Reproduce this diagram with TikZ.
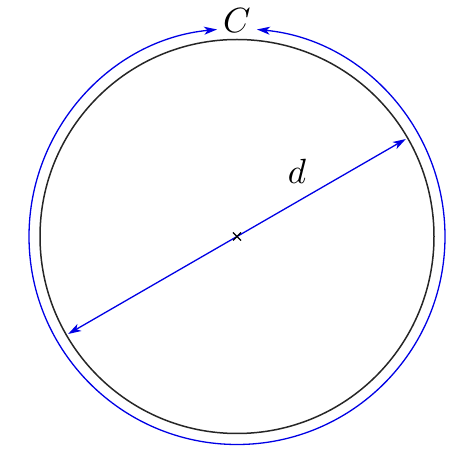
\documentclass[tikz,border=0pt]{standalone}
\usepackage{amssymb}
\usepackage{tikz}
\usepackage{color}
\usetikzlibrary{arrows.meta,calc}

\begin{document}
\begin{tikzpicture}[x=1pt,y=1pt]
            \tikzstyle{rim}=[draw=black!85,line width=1.5pt]
            \tikzstyle{measure}=[draw=blue!90!black,line width=1.3pt,-{Stealth[length=13pt,width=8pt,inset=3.5pt]}]
            \tikzstyle{big label}=[anchor=base,inner sep=0pt,scale=3.5]
            \useasboundingbox (0,0) rectangle (474,474);

            \coordinate (O) at (237,237.5);
            \coordinate (P) at ($(O)+(30:195)$);
            \coordinate (Q) at ($(O)+(210:195)$);
            \coordinate (L) at ($(O)+(270:208)$);

            \draw[rim] (O) circle (197);
            \draw[measure] (L) arc (270:95.5:208);
            \draw[measure] (L) arc (-90:84.5:208);
            \draw[measure] (O) -- (P);
            \draw[measure] (O) -- (Q);
            \draw[black,line width=1.2pt] ($(O)+(-4,-4)$) -- ($(O)+(4,4)$) ($(O)+(-4,4)$) -- ($(O)+(4,-4)$);

            \node[big label] (C) at (237,441) {$C$};
            \node[big label] (d) at (297,290) {$d$};
        \end{tikzpicture}
\end{document}
